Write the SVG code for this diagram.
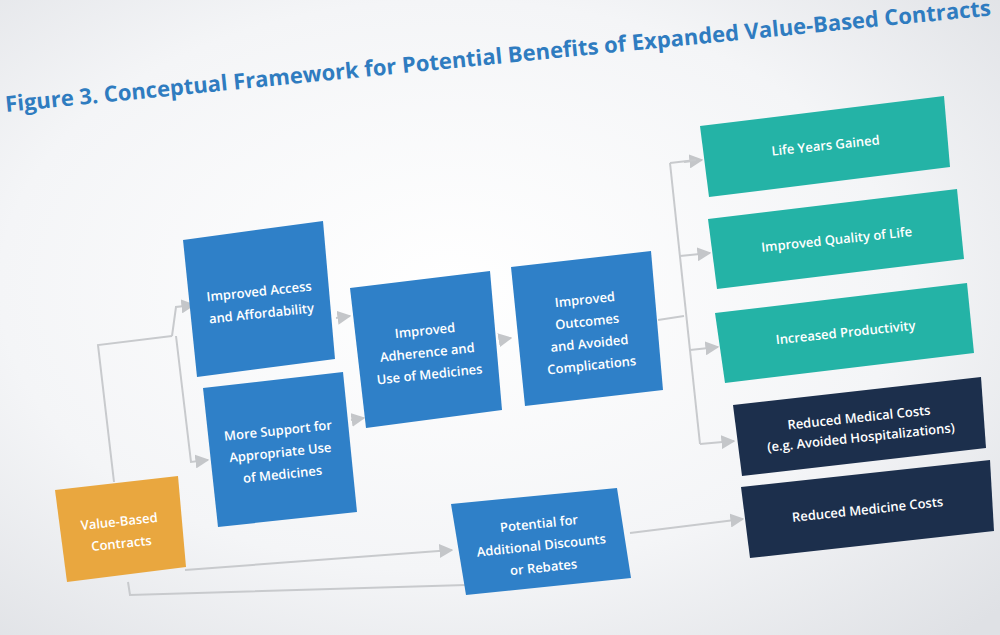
<svg xmlns="http://www.w3.org/2000/svg" width="1000" height="635" viewBox="0 0 1000 635">
<defs>
<radialGradient id="bg" cx="0.45" cy="0.45" r="0.75"><stop offset="0" stop-color="#ffffff"/><stop offset="0.6" stop-color="#f4f5f7"/><stop offset="1" stop-color="#dfe1e5"/></radialGradient>
<marker id="ah" viewBox="0 0 10 10" refX="9" refY="5" markerWidth="7" markerHeight="7" orient="auto"><path d="M0,0 L10,5 L0,10 z" fill="#c4c6c9"/></marker>
<style>
.c{fill:none;stroke:#c8cacd;stroke-width:2}
.a{marker-end:url(#ah)}
.t{font-family:"Open Sans","Liberation Sans",sans-serif;font-weight:600;font-size:13px;fill:#fff;text-anchor:middle}
.blue{fill:#2f80c8}.teal{fill:#24b3a6}.navy{fill:#1c2f4c}.org{fill:#e9a73f}
</style>
</defs>
<rect width="1000" height="635" fill="url(#bg)"/>
<text transform="translate(6,112) rotate(-5.6)" font-family="'Open Sans','Liberation Sans',sans-serif" font-weight="700" font-size="22" fill="#2f7cc0">Figure 3. Conceptual Framework for Potential Benefits of Expanded Value-Based Contracts</text>
<g id="connectors">
<polyline class="c" points="114,482 98,345 172,336"/>
<polyline class="c a" points="172,336 176,307 194,305"/>
<polyline class="c a" points="176,336 191,462 208,460"/>
<line class="c a" x1="336" y1="318" x2="350" y2="316"/>
<line class="c a" x1="351" y1="420" x2="364" y2="418"/>
<line class="c a" x1="500" y1="340" x2="511" y2="338"/>
<polyline class="c" points="658,320 684,316"/>
<polyline class="c a" points="684,162 702,160"/>
<line class="c" x1="670" y1="163" x2="700" y2="444"/>
<line class="c" x1="670" y1="163" x2="696" y2="160"/>
<line class="c a" x1="680" y1="256" x2="710" y2="253"/>
<line class="c a" x1="690" y1="350" x2="718" y2="347"/>
<line class="c a" x1="700" y1="444" x2="734" y2="441"/>
<line class="c a" x1="185" y1="570" x2="452" y2="550"/>
<polyline class="c" points="128,582 130,595 466,585"/>
<line class="c a" x1="630" y1="533" x2="743" y2="519"/>
</g>
<g id="n1"><polygon class="org" points="55,490 178,476 186,567 67,582"/><text class="t" transform="translate(120,530) rotate(-6)"><tspan x="0" y="-4">Value-Based</tspan><tspan x="0" y="18">Contracts</tspan></text></g>
<g id="n2"><polygon class="blue" points="183,240 323,221 335,359 197,377"/><text class="t" transform="translate(260,300) rotate(-6)"><tspan x="0" y="-4">Improved Access</tspan><tspan x="0" y="18">and Affordability</tspan></text></g>
<g id="n3"><polygon class="blue" points="203,388 343,372 357,512 218,527"/><text class="t" transform="translate(280,450) rotate(-6)"><tspan x="0" y="-15">More Support for</tspan><tspan x="0" y="7">Appropriate Use</tspan><tspan x="0" y="29">of Medicines</tspan></text></g>
<g id="n4"><polygon class="blue" points="350,288 490,271 502,410 366,428"/><text class="t" transform="translate(427,350) rotate(-6)"><tspan x="0" y="-15">Improved</tspan><tspan x="0" y="7">Adherence and</tspan><tspan x="0" y="29">Use of Medicines</tspan></text></g>
<g id="n5"><polygon class="blue" points="511,267 651,251 663,390 525,406"/><text class="t" transform="translate(588,330) rotate(-6)"><tspan x="0" y="-26">Improved</tspan><tspan x="0" y="-4">Outcomes</tspan><tspan x="0" y="18">and Avoided</tspan><tspan x="0" y="40">Complications</tspan></text></g>
<g id="n6"><polygon class="blue" points="451,504 617,488 631,578 466,595"/><text class="t" transform="translate(541,543) rotate(-6)"><tspan x="0" y="-15">Potential for</tspan><tspan x="0" y="7">Additional Discounts</tspan><tspan x="0" y="29">or Rebates</tspan></text></g>
<g id="n7"><polygon class="teal" points="700,126 944,96 950,167 709,197"/><text class="t" transform="translate(826,150) rotate(-6)">Life Years Gained</text></g>
<g id="n8"><polygon class="teal" points="708,219 957,189 964,259 717,289"/><text class="t" transform="translate(837,244) rotate(-6)">Improved Quality of Life</text></g>
<g id="n9"><polygon class="teal" points="715,313 967,283 974,353 725,383"/><text class="t" transform="translate(846,337) rotate(-6)">Increased Productivity</text></g>
<g id="n10"><polygon class="navy" points="733,405 981,377 986,448 742,476"/><text class="t" transform="translate(860,428) rotate(-6)"><tspan x="0" y="-6">Reduced Medical Costs</tspan><tspan x="0" y="14">(e.g. Avoided Hospitalizations)</tspan></text></g>
<g id="n11"><polygon class="navy" points="741,487 990,460 994,531 750,558"/><text class="t" transform="translate(868,514) rotate(-6)">Reduced Medicine Costs</text></g>
</svg>
